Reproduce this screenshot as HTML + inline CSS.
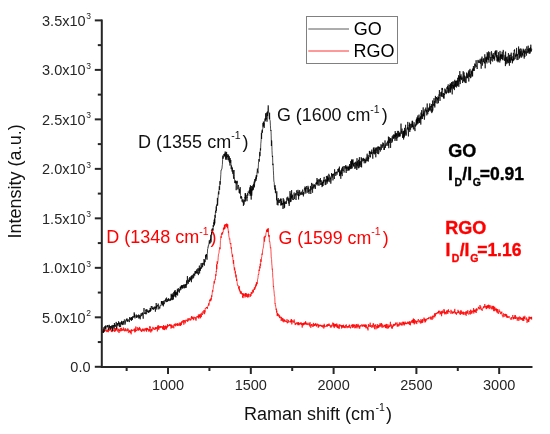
<!DOCTYPE html>
<html><head><meta charset="utf-8"><style>
html,body{margin:0;padding:0;background:#fff;}
body{width:550px;height:434px;overflow:hidden;}
svg{display:block;will-change:transform;font-family:"Liberation Sans",sans-serif;}
</style></head><body>
<svg width="550" height="434" viewBox="0 0 550 434">
<rect width="550" height="434" fill="#fff"/>
<path d="M102.0,331.1 L102.2,330.1 L102.4,332.7 L102.6,331.5 L102.8,330.6 L103.0,329.1 L103.2,330.8 L103.4,332.1 L103.6,330.6 L103.8,330.3 L104.0,331.5 L104.2,329.2 L104.4,330.7 L104.6,331.3 L104.8,329.6 L105.0,329.6 L105.2,330.9 L105.4,330.6 L105.6,330.5 L105.8,331.1 L106.0,331.2 L106.2,329.9 L106.4,330.1 L106.6,331.4 L106.8,332.0 L107.0,332.2 L107.2,329.5 L107.4,331.7 L107.6,331.2 L107.8,330.2 L108.0,330.8 L108.2,331.2 L108.4,332.2 L108.6,328.7 L108.8,330.5 L109.0,329.5 L109.2,329.3 L109.4,330.8 L109.6,330.4 L109.8,328.3 L110.0,329.2 L110.2,329.7 L110.4,327.8 L110.6,330.4 L110.8,329.3 L111.0,329.6 L111.2,330.0 L111.4,331.9 L111.6,329.9 L111.8,329.6 L112.0,332.1 L112.2,329.6 L112.4,329.5 L112.6,328.5 L112.8,331.5 L113.0,330.6 L113.2,330.9 L113.4,330.6 L113.6,330.2 L113.8,329.4 L114.0,329.3 L114.2,330.7 L114.4,330.2 L114.6,331.9 L114.8,329.0 L115.0,329.3 L115.2,328.6 L115.4,331.3 L115.6,328.1 L115.8,330.3 L116.0,330.9 L116.2,329.0 L116.4,330.0 L116.6,326.8 L116.8,329.0 L117.0,327.8 L117.2,330.2 L117.4,330.3 L117.6,329.6 L117.8,331.7 L118.0,331.0 L118.2,329.9 L118.4,329.9 L118.6,328.8 L118.8,330.3 L119.0,333.0 L119.2,329.7 L119.4,330.9 L119.6,329.7 L119.8,331.2 L120.0,330.6 L120.2,329.7 L120.4,327.9 L120.6,329.4 L120.8,331.4 L121.0,329.8 L121.2,330.8 L121.4,329.5 L121.6,327.8 L121.8,330.5 L122.0,330.3 L122.2,329.3 L122.4,329.5 L122.6,330.4 L122.8,329.4 L123.0,330.6 L123.2,330.0 L123.4,327.5 L123.6,330.1 L123.8,329.6 L124.0,329.4 L124.2,330.8 L124.4,329.7 L124.6,330.8 L124.8,331.4 L125.0,330.2 L125.2,328.1 L125.4,329.0 L125.6,330.9 L125.8,329.6 L126.0,329.1 L126.2,330.1 L126.4,330.9 L126.6,330.8 L126.8,331.3 L127.0,329.6 L127.2,330.3 L127.4,330.4 L127.6,330.7 L127.8,328.3 L128.0,330.6 L128.2,329.4 L128.4,332.7 L128.6,332.9 L128.8,333.1 L129.0,332.0 L129.2,330.5 L129.4,332.2 L129.6,330.8 L129.8,331.7 L130.0,329.9 L130.2,330.2 L130.4,331.5 L130.6,333.0 L130.8,331.0 L131.0,333.7 L131.2,334.3 L131.4,329.5 L131.6,330.9 L131.8,329.7 L132.0,330.5 L132.2,329.8 L132.4,330.2 L132.6,331.2 L132.8,331.0 L133.0,330.1 L133.2,329.7 L133.4,329.8 L133.6,329.8 L133.8,330.4 L134.0,329.8 L134.2,330.6 L134.4,328.6 L134.6,331.2 L134.8,332.4 L135.0,330.6 L135.2,328.7 L135.4,331.8 L135.6,329.7 L135.8,326.5 L136.0,329.7 L136.2,330.6 L136.4,330.2 L136.6,331.1 L136.8,330.3 L137.0,329.6 L137.2,327.1 L137.4,328.2 L137.6,329.7 L137.8,330.4 L138.0,328.6 L138.2,329.2 L138.4,330.6 L138.6,327.9 L138.8,327.8 L139.0,329.7 L139.2,330.1 L139.4,329.2 L139.6,326.9 L139.8,329.6 L140.0,328.0 L140.2,330.4 L140.4,329.6 L140.6,330.1 L140.8,330.7 L141.0,329.5 L141.2,331.2 L141.4,331.7 L141.6,330.7 L141.8,331.8 L142.0,329.4 L142.2,331.0 L142.4,330.2 L142.6,328.6 L142.8,329.6 L143.0,329.1 L143.2,329.1 L143.4,329.9 L143.6,331.2 L143.8,329.7 L144.0,330.3 L144.2,328.5 L144.4,330.3 L144.6,331.4 L144.8,330.9 L145.0,330.4 L145.2,329.1 L145.4,328.6 L145.6,329.7 L145.8,328.3 L146.0,328.4 L146.2,330.9 L146.4,328.6 L146.6,331.7 L146.8,327.8 L147.0,329.9 L147.2,328.1 L147.4,329.7 L147.6,328.4 L147.8,329.7 L148.0,329.6 L148.2,329.3 L148.4,330.4 L148.6,331.5 L148.8,328.9 L149.0,330.4 L149.2,329.2 L149.4,328.9 L149.6,331.4 L149.8,326.2 L150.0,328.0 L150.2,326.7 L150.4,328.5 L150.6,328.6 L150.8,332.5 L151.0,329.4 L151.2,331.3 L151.4,330.8 L151.6,328.8 L151.8,329.9 L152.0,331.2 L152.2,329.3 L152.4,329.2 L152.6,329.4 L152.8,326.9 L153.0,327.7 L153.2,329.1 L153.4,329.4 L153.6,327.8 L153.8,328.6 L154.0,328.9 L154.2,328.9 L154.4,329.9 L154.6,329.2 L154.8,329.3 L155.0,327.5 L155.2,327.9 L155.4,329.5 L155.6,327.1 L155.8,329.1 L156.0,327.8 L156.2,327.4 L156.4,328.9 L156.6,327.3 L156.8,327.1 L157.0,327.3 L157.2,328.2 L157.4,331.4 L157.6,325.6 L157.8,328.1 L158.0,327.8 L158.2,329.3 L158.4,327.7 L158.6,325.3 L158.8,329.8 L159.0,326.8 L159.2,327.9 L159.4,326.1 L159.6,326.2 L159.8,326.7 L160.0,328.2 L160.2,328.0 L160.4,326.2 L160.6,327.4 L160.8,326.3 L161.0,326.9 L161.2,327.0 L161.4,327.6 L161.6,326.2 L161.8,326.9 L162.0,327.3 L162.2,327.3 L162.4,326.3 L162.6,329.3 L162.8,326.8 L163.0,328.4 L163.2,327.8 L163.4,329.1 L163.6,325.0 L163.8,330.0 L164.0,327.3 L164.2,326.0 L164.4,327.6 L164.6,330.1 L164.8,327.9 L165.0,325.9 L165.2,326.8 L165.4,328.9 L165.6,325.6 L165.8,327.0 L166.0,326.8 L166.2,329.6 L166.4,326.6 L166.6,328.4 L166.8,325.9 L167.0,325.7 L167.2,327.7 L167.4,327.1 L167.6,324.1 L167.8,326.8 L168.0,326.7 L168.2,325.1 L168.4,326.0 L168.6,326.1 L168.8,325.2 L169.0,325.1 L169.2,325.1 L169.4,325.6 L169.6,324.3 L169.8,325.8 L170.0,324.1 L170.2,326.1 L170.4,325.9 L170.6,324.9 L170.8,327.2 L171.0,328.6 L171.2,327.8 L171.4,324.6 L171.6,327.7 L171.8,326.4 L172.0,326.0 L172.2,325.4 L172.4,326.1 L172.6,327.8 L172.8,326.9 L173.0,325.8 L173.2,325.6 L173.4,325.9 L173.6,326.9 L173.8,328.3 L174.0,324.4 L174.2,325.5 L174.4,324.8 L174.6,324.2 L174.8,325.6 L175.0,325.7 L175.2,323.3 L175.4,323.7 L175.6,326.3 L175.8,325.1 L176.0,325.3 L176.2,324.0 L176.4,324.1 L176.6,325.2 L176.8,324.0 L177.0,323.3 L177.2,324.6 L177.4,325.7 L177.6,323.4 L177.8,326.0 L178.0,325.6 L178.2,323.7 L178.4,324.8 L178.6,324.7 L178.8,325.4 L179.0,325.3 L179.2,322.8 L179.4,322.6 L179.6,325.5 L179.8,324.3 L180.0,324.7 L180.2,324.6 L180.4,326.0 L180.6,322.6 L180.8,325.3 L181.0,322.9 L181.2,324.5 L181.4,325.0 L181.6,321.4 L181.8,323.3 L182.0,322.2 L182.2,321.9 L182.4,322.1 L182.6,320.6 L182.8,320.7 L183.0,322.6 L183.2,322.9 L183.4,321.2 L183.6,320.1 L183.8,324.7 L184.0,323.1 L184.2,322.1 L184.4,320.3 L184.6,320.8 L184.8,321.8 L185.0,320.4 L185.2,323.4 L185.4,321.5 L185.6,321.7 L185.8,319.8 L186.0,319.7 L186.2,319.7 L186.4,320.8 L186.6,320.1 L186.8,319.9 L187.0,320.6 L187.2,320.4 L187.4,321.8 L187.6,319.6 L187.8,318.5 L188.0,319.5 L188.2,321.2 L188.4,318.6 L188.6,319.3 L188.8,318.8 L189.0,319.7 L189.2,319.6 L189.4,318.3 L189.6,319.0 L189.8,320.5 L190.0,320.7 L190.2,320.5 L190.4,320.4 L190.6,318.9 L190.8,318.7 L191.0,320.2 L191.2,317.4 L191.4,318.5 L191.6,316.1 L191.8,317.8 L192.0,317.3 L192.2,316.7 L192.4,319.0 L192.6,317.4 L192.8,317.9 L193.0,318.1 L193.2,317.6 L193.4,320.2 L193.6,317.8 L193.8,318.6 L194.0,316.7 L194.2,317.6 L194.4,317.7 L194.6,317.6 L194.8,317.1 L195.0,317.9 L195.2,319.6 L195.4,317.5 L195.6,317.4 L195.8,317.1 L196.0,320.7 L196.2,319.4 L196.4,318.0 L196.6,318.0 L196.8,316.2 L197.0,316.8 L197.2,317.2 L197.4,317.1 L197.6,316.0 L197.8,316.1 L198.0,317.8 L198.2,317.6 L198.4,314.5 L198.6,317.2 L198.8,318.6 L199.0,316.0 L199.2,316.9 L199.4,314.6 L199.6,317.2 L199.8,314.6 L200.0,314.2 L200.2,315.1 L200.4,318.3 L200.6,314.5 L200.8,313.6 L201.0,315.7 L201.2,315.4 L201.4,317.1 L201.6,313.3 L201.8,312.7 L202.0,314.1 L202.2,314.7 L202.4,314.3 L202.6,314.9 L202.8,311.3 L203.0,311.8 L203.2,312.4 L203.4,313.4 L203.6,312.6 L203.8,311.1 L204.0,310.0 L204.2,312.2 L204.4,312.1 L204.6,314.2 L204.8,310.3 L205.0,312.4 L205.2,308.5 L205.4,309.0 L205.6,308.5 L205.8,308.4 L206.0,307.5 L206.2,307.5 L206.4,307.9 L206.6,307.1 L206.8,308.3 L207.0,307.2 L207.2,307.1 L207.4,308.8 L207.6,307.0 L207.8,306.4 L208.0,305.7 L208.2,305.4 L208.4,305.6 L208.6,303.3 L208.8,305.4 L209.0,305.5 L209.2,304.5 L209.4,301.7 L209.6,299.7 L209.8,300.7 L210.0,300.9 L210.2,301.3 L210.4,299.5 L210.6,299.0 L210.8,301.1 L211.0,297.8 L211.2,299.7 L211.4,299.0 L211.6,295.4 L211.8,296.9 L212.0,294.9 L212.2,293.4 L212.4,291.1 L212.6,290.3 L212.8,291.7 L213.0,289.2 L213.2,288.7 L213.4,285.6 L213.6,285.6 L213.8,284.7 L214.0,282.1 L214.2,281.1 L214.4,283.4 L214.6,282.1 L214.8,279.5 L215.0,279.6 L215.2,279.5 L215.4,279.8 L215.6,274.3 L215.8,275.1 L216.0,275.8 L216.2,271.3 L216.4,272.0 L216.6,264.4 L216.8,269.2 L217.0,265.6 L217.2,261.3 L217.4,264.0 L217.6,263.0 L217.8,261.9 L218.0,260.5 L218.2,257.3 L218.4,254.9 L218.6,254.1 L218.8,253.5 L219.0,252.9 L219.2,250.1 L219.4,249.6 L219.6,249.6 L219.8,247.3 L220.0,249.2 L220.2,247.6 L220.4,240.7 L220.6,240.2 L220.8,237.5 L221.0,236.3 L221.2,237.9 L221.4,234.2 L221.6,233.2 L221.8,233.7 L222.0,235.0 L222.2,232.5 L222.4,232.0 L222.6,233.8 L222.8,232.5 L223.0,231.9 L223.2,232.1 L223.4,228.1 L223.6,229.5 L223.8,227.4 L224.0,229.6 L224.2,228.8 L224.4,225.2 L224.6,229.0 L224.8,224.5 L225.0,228.4 L225.2,226.6 L225.4,224.6 L225.6,224.0 L225.8,225.3 L226.0,225.7 L226.2,224.5 L226.4,226.8 L226.6,223.6 L226.8,226.2 L227.0,226.6 L227.2,223.9 L227.4,228.2 L227.6,226.1 L227.8,224.5 L228.0,228.4 L228.2,229.8 L228.4,232.7 L228.6,231.4 L228.8,235.8 L229.0,236.9 L229.2,237.6 L229.4,239.3 L229.6,238.9 L229.8,238.7 L230.0,242.1 L230.2,243.8 L230.4,243.8 L230.6,244.1 L230.8,243.0 L231.0,247.9 L231.2,248.6 L231.4,247.3 L231.6,250.9 L231.8,253.3 L232.0,253.3 L232.2,255.9 L232.4,257.0 L232.6,254.6 L232.8,257.5 L233.0,259.9 L233.2,261.8 L233.4,263.8 L233.6,260.0 L233.8,264.1 L234.0,266.6 L234.2,268.6 L234.4,270.4 L234.6,267.5 L234.8,269.4 L235.0,269.5 L235.2,273.4 L235.4,271.3 L235.6,276.3 L235.8,277.1 L236.0,277.5 L236.2,274.6 L236.4,277.9 L236.6,281.0 L236.8,278.8 L237.0,281.5 L237.2,282.6 L237.4,285.0 L237.6,284.9 L237.8,285.6 L238.0,285.2 L238.2,286.4 L238.4,286.6 L238.6,288.2 L238.8,287.3 L239.0,289.4 L239.2,286.0 L239.4,290.5 L239.6,289.1 L239.8,291.4 L240.0,290.5 L240.2,292.1 L240.4,293.6 L240.6,291.2 L240.8,292.6 L241.0,292.7 L241.2,293.6 L241.4,291.5 L241.6,293.9 L241.8,294.1 L242.0,293.7 L242.2,294.7 L242.4,293.0 L242.6,297.3 L242.8,296.0 L243.0,298.1 L243.2,294.4 L243.4,294.0 L243.6,296.0 L243.8,293.2 L244.0,295.7 L244.2,294.2 L244.4,294.6 L244.6,295.3 L244.8,295.0 L245.0,297.5 L245.2,295.9 L245.4,293.2 L245.6,296.4 L245.8,293.2 L246.0,295.2 L246.2,293.4 L246.4,294.0 L246.6,297.0 L246.8,294.4 L247.0,294.4 L247.2,294.6 L247.4,295.0 L247.6,297.5 L247.8,294.0 L248.0,294.0 L248.2,296.6 L248.4,293.6 L248.6,295.3 L248.8,297.3 L249.0,295.6 L249.2,294.9 L249.4,294.4 L249.6,294.1 L249.8,294.4 L250.0,295.4 L250.2,296.9 L250.4,296.5 L250.6,294.3 L250.8,294.0 L251.0,295.9 L251.2,292.2 L251.4,294.0 L251.6,293.8 L251.8,292.4 L252.0,292.1 L252.2,293.6 L252.4,290.4 L252.6,291.0 L252.8,291.1 L253.0,291.8 L253.2,289.4 L253.4,292.5 L253.6,290.1 L253.8,289.8 L254.0,289.2 L254.2,288.3 L254.4,287.4 L254.6,290.0 L254.8,288.3 L255.0,287.4 L255.2,288.5 L255.4,285.6 L255.6,287.2 L255.8,285.9 L256.0,284.2 L256.2,286.2 L256.4,282.5 L256.6,285.1 L256.8,282.2 L257.0,283.4 L257.2,284.0 L257.4,282.0 L257.6,279.3 L257.8,279.2 L258.0,277.6 L258.2,275.3 L258.4,274.1 L258.6,274.6 L258.8,274.2 L259.0,269.6 L259.2,271.0 L259.4,270.8 L259.6,269.1 L259.8,266.3 L260.0,268.3 L260.2,263.7 L260.4,265.4 L260.6,265.9 L260.8,259.2 L261.0,261.9 L261.2,260.9 L261.4,259.7 L261.6,257.0 L261.8,256.5 L262.0,253.6 L262.2,254.7 L262.4,254.1 L262.6,251.0 L262.8,249.3 L263.0,248.7 L263.2,248.1 L263.4,246.9 L263.6,245.2 L263.8,244.0 L264.0,240.4 L264.2,236.8 L264.4,241.2 L264.6,241.6 L264.8,235.9 L265.0,236.3 L265.2,237.1 L265.4,237.3 L265.6,235.8 L265.8,235.9 L266.0,232.7 L266.2,232.6 L266.4,231.8 L266.6,229.7 L266.8,232.0 L267.0,230.7 L267.2,231.2 L267.4,229.0 L267.6,231.8 L267.8,228.9 L268.0,232.2 L268.2,228.1 L268.4,231.8 L268.6,235.8 L268.8,234.9 L269.0,237.1 L269.2,235.2 L269.4,241.7 L269.6,241.3 L269.8,241.5 L270.0,243.5 L270.2,244.7 L270.4,248.1 L270.6,248.1 L270.8,247.6 L271.0,251.9 L271.2,256.9 L271.4,258.4 L271.6,259.5 L271.8,263.9 L272.0,265.9 L272.2,269.4 L272.4,268.8 L272.6,272.5 L272.8,277.4 L273.0,278.6 L273.2,282.1 L273.4,287.0 L273.6,286.3 L273.8,289.6 L274.0,290.9 L274.2,293.2 L274.4,296.1 L274.6,296.3 L274.8,297.3 L275.0,303.6 L275.2,303.1 L275.4,306.0 L275.6,305.8 L275.8,307.1 L276.0,308.9 L276.2,310.1 L276.4,308.7 L276.6,312.6 L276.8,310.6 L277.0,312.6 L277.2,316.1 L277.4,313.3 L277.6,315.6 L277.8,313.3 L278.0,314.9 L278.2,314.6 L278.4,315.5 L278.6,314.4 L278.8,314.8 L279.0,316.9 L279.2,314.9 L279.4,316.0 L279.6,318.1 L279.8,316.7 L280.0,316.4 L280.2,316.3 L280.4,317.9 L280.6,317.4 L280.8,318.3 L281.0,318.1 L281.2,321.0 L281.4,318.5 L281.6,316.9 L281.8,319.7 L282.0,319.7 L282.2,320.0 L282.4,318.0 L282.6,321.4 L282.8,320.2 L283.0,320.3 L283.2,318.5 L283.4,321.2 L283.6,320.6 L283.8,322.3 L284.0,320.2 L284.2,319.3 L284.4,321.0 L284.6,319.9 L284.8,321.6 L285.0,319.9 L285.2,321.2 L285.4,321.2 L285.6,321.6 L285.8,321.2 L286.0,321.0 L286.2,322.0 L286.4,321.5 L286.6,322.3 L286.8,321.7 L287.0,319.2 L287.2,321.7 L287.4,323.3 L287.6,321.9 L287.8,322.3 L288.0,322.1 L288.2,320.9 L288.4,319.9 L288.6,322.4 L288.8,322.6 L289.0,322.0 L289.2,321.8 L289.4,321.9 L289.6,321.5 L289.8,321.9 L290.0,321.7 L290.2,322.1 L290.4,320.6 L290.6,321.0 L290.8,322.5 L291.0,321.5 L291.2,319.1 L291.4,322.2 L291.6,319.4 L291.8,324.4 L292.0,322.8 L292.2,322.7 L292.4,321.0 L292.6,320.4 L292.8,321.4 L293.0,321.7 L293.2,320.8 L293.4,321.9 L293.6,322.6 L293.8,322.6 L294.0,320.7 L294.2,319.5 L294.4,322.3 L294.6,321.7 L294.8,323.2 L295.0,324.7 L295.2,324.8 L295.4,323.2 L295.6,324.2 L295.8,324.8 L296.0,322.9 L296.2,323.1 L296.4,323.8 L296.6,322.9 L296.8,322.4 L297.0,322.2 L297.2,323.3 L297.4,322.6 L297.6,324.4 L297.8,323.1 L298.0,325.2 L298.2,324.9 L298.4,322.0 L298.6,324.8 L298.8,323.1 L299.0,325.2 L299.2,324.2 L299.4,323.5 L299.6,324.3 L299.8,322.8 L300.0,323.8 L300.2,323.8 L300.4,323.3 L300.6,324.0 L300.8,322.5 L301.0,324.6 L301.2,322.6 L301.4,324.9 L301.6,324.8 L301.8,325.0 L302.0,323.5 L302.2,327.6 L302.4,323.8 L302.6,324.2 L302.8,323.1 L303.0,325.6 L303.2,323.3 L303.4,325.0 L303.6,322.8 L303.8,324.2 L304.0,323.5 L304.2,324.9 L304.4,323.4 L304.6,322.7 L304.8,324.1 L305.0,322.1 L305.2,322.3 L305.4,324.3 L305.6,321.2 L305.8,324.3 L306.0,323.1 L306.2,322.6 L306.4,324.1 L306.6,324.6 L306.8,323.3 L307.0,323.9 L307.2,325.0 L307.4,324.9 L307.6,323.9 L307.8,323.0 L308.0,322.7 L308.2,323.0 L308.4,324.4 L308.6,324.2 L308.8,323.9 L309.0,325.2 L309.2,323.4 L309.4,323.5 L309.6,323.7 L309.8,326.5 L310.0,322.2 L310.2,325.1 L310.4,325.4 L310.6,325.1 L310.8,327.8 L311.0,326.5 L311.2,326.0 L311.4,324.1 L311.6,325.6 L311.8,324.5 L312.0,325.0 L312.2,325.2 L312.4,324.5 L312.6,325.8 L312.8,327.0 L313.0,326.3 L313.2,325.4 L313.4,322.9 L313.6,326.3 L313.8,326.2 L314.0,324.8 L314.2,324.5 L314.4,325.8 L314.6,324.2 L314.8,326.0 L315.0,323.8 L315.2,324.0 L315.4,325.0 L315.6,323.3 L315.8,325.0 L316.0,325.7 L316.2,323.7 L316.4,326.4 L316.6,324.9 L316.8,326.3 L317.0,325.9 L317.2,325.2 L317.4,325.1 L317.6,323.7 L317.8,324.9 L318.0,324.9 L318.2,327.8 L318.4,327.1 L318.6,324.4 L318.8,326.7 L319.0,325.9 L319.2,325.1 L319.4,325.9 L319.6,326.3 L319.8,324.8 L320.0,325.3 L320.2,326.0 L320.4,324.8 L320.6,326.2 L320.8,325.9 L321.0,325.2 L321.2,325.0 L321.4,326.3 L321.6,326.9 L321.8,326.3 L322.0,324.9 L322.2,326.8 L322.4,326.2 L322.6,326.8 L322.8,327.5 L323.0,325.3 L323.2,326.3 L323.4,325.7 L323.6,325.3 L323.8,328.5 L324.0,327.1 L324.2,323.8 L324.4,326.3 L324.6,325.2 L324.8,327.2 L325.0,326.1 L325.2,325.9 L325.4,326.3 L325.6,326.5 L325.8,326.1 L326.0,325.8 L326.2,325.8 L326.4,326.6 L326.6,324.7 L326.8,325.9 L327.0,325.8 L327.2,325.3 L327.4,326.6 L327.6,324.2 L327.8,325.1 L328.0,324.4 L328.2,325.9 L328.4,324.7 L328.6,325.3 L328.8,325.7 L329.0,323.5 L329.2,325.9 L329.4,324.6 L329.6,325.1 L329.8,325.3 L330.0,326.3 L330.2,326.3 L330.4,327.5 L330.6,325.7 L330.8,325.0 L331.0,325.0 L331.2,326.3 L331.4,327.4 L331.6,325.9 L331.8,324.7 L332.0,325.6 L332.2,325.6 L332.4,325.4 L332.6,324.5 L332.8,322.6 L333.0,324.9 L333.2,326.8 L333.4,325.9 L333.6,323.2 L333.8,325.7 L334.0,323.7 L334.2,328.1 L334.4,326.0 L334.6,324.4 L334.8,326.6 L335.0,324.7 L335.2,326.1 L335.4,325.4 L335.6,324.0 L335.8,326.1 L336.0,323.8 L336.2,326.9 L336.4,325.5 L336.6,324.4 L336.8,323.6 L337.0,327.6 L337.2,327.6 L337.4,324.7 L337.6,328.1 L337.8,326.6 L338.0,326.2 L338.2,326.5 L338.4,326.4 L338.6,328.3 L338.8,326.8 L339.0,324.5 L339.2,328.8 L339.4,327.2 L339.6,324.7 L339.8,325.3 L340.0,324.6 L340.2,325.6 L340.4,326.0 L340.6,325.9 L340.8,325.0 L341.0,324.9 L341.2,326.9 L341.4,325.8 L341.6,328.5 L341.8,325.1 L342.0,327.0 L342.2,326.2 L342.4,325.3 L342.6,327.7 L342.8,326.3 L343.0,325.1 L343.2,325.7 L343.4,327.2 L343.6,324.7 L343.8,327.7 L344.0,327.0 L344.2,325.9 L344.4,327.8 L344.6,328.1 L344.8,326.8 L345.0,326.2 L345.2,328.1 L345.4,327.7 L345.6,324.9 L345.8,325.7 L346.0,325.8 L346.2,325.6 L346.4,324.5 L346.6,327.3 L346.8,326.5 L347.0,326.6 L347.2,328.2 L347.4,326.1 L347.6,326.7 L347.8,327.0 L348.0,326.1 L348.2,326.3 L348.4,327.2 L348.6,326.2 L348.8,327.7 L349.0,325.3 L349.2,326.5 L349.4,324.6 L349.6,326.2 L349.8,325.5 L350.0,327.9 L350.2,327.2 L350.4,326.9 L350.6,328.4 L350.8,328.0 L351.0,327.2 L351.2,325.6 L351.4,324.8 L351.6,326.4 L351.8,325.9 L352.0,325.5 L352.2,325.9 L352.4,324.3 L352.6,327.9 L352.8,324.9 L353.0,325.4 L353.2,326.8 L353.4,324.3 L353.6,327.3 L353.8,327.3 L354.0,326.0 L354.2,325.2 L354.4,326.0 L354.6,324.5 L354.8,328.3 L355.0,326.8 L355.2,325.8 L355.4,325.5 L355.6,327.1 L355.8,328.1 L356.0,324.8 L356.2,325.5 L356.4,324.0 L356.6,326.7 L356.8,326.0 L357.0,328.3 L357.2,325.5 L357.4,325.2 L357.6,324.9 L357.8,326.7 L358.0,323.9 L358.2,326.8 L358.4,326.3 L358.6,325.5 L358.8,325.2 L359.0,327.5 L359.2,328.5 L359.4,325.9 L359.6,327.1 L359.8,328.5 L360.0,325.8 L360.2,326.2 L360.4,325.1 L360.6,326.3 L360.8,326.4 L361.0,326.0 L361.2,325.6 L361.4,324.5 L361.6,324.6 L361.8,324.8 L362.0,326.6 L362.2,325.1 L362.4,324.7 L362.6,326.4 L362.8,326.3 L363.0,324.8 L363.2,324.9 L363.4,326.3 L363.6,325.9 L363.8,324.5 L364.0,325.7 L364.2,325.5 L364.4,326.9 L364.6,324.7 L364.8,326.8 L365.0,326.4 L365.2,324.8 L365.4,327.2 L365.6,327.0 L365.8,324.5 L366.0,328.3 L366.2,324.8 L366.4,325.2 L366.6,326.1 L366.8,327.5 L367.0,327.5 L367.2,326.9 L367.4,328.7 L367.6,327.6 L367.8,328.8 L368.0,330.4 L368.2,327.4 L368.4,324.1 L368.6,326.5 L368.8,325.7 L369.0,326.9 L369.2,326.8 L369.4,325.0 L369.6,324.9 L369.8,325.7 L370.0,325.6 L370.2,322.7 L370.4,326.9 L370.6,325.9 L370.8,326.0 L371.0,326.5 L371.2,325.1 L371.4,326.4 L371.6,327.6 L371.8,327.6 L372.0,326.7 L372.2,325.6 L372.4,324.9 L372.6,327.3 L372.8,326.4 L373.0,325.3 L373.2,323.3 L373.4,324.9 L373.6,323.7 L373.8,327.4 L374.0,326.2 L374.2,325.1 L374.4,325.8 L374.6,329.2 L374.8,327.7 L375.0,324.8 L375.2,326.3 L375.4,325.0 L375.6,324.5 L375.8,326.7 L376.0,329.3 L376.2,328.3 L376.4,326.5 L376.6,326.0 L376.8,326.7 L377.0,327.6 L377.2,324.6 L377.4,324.1 L377.6,328.4 L377.8,326.4 L378.0,327.8 L378.2,326.1 L378.4,327.5 L378.6,324.9 L378.8,326.2 L379.0,327.4 L379.2,326.7 L379.4,324.9 L379.6,326.4 L379.8,324.4 L380.0,323.3 L380.2,325.5 L380.4,326.5 L380.6,326.0 L380.8,323.6 L381.0,326.4 L381.2,326.4 L381.4,325.3 L381.6,323.1 L381.8,327.5 L382.0,327.4 L382.2,327.1 L382.4,324.4 L382.6,324.7 L382.8,327.7 L383.0,327.4 L383.2,327.0 L383.4,326.0 L383.6,326.6 L383.8,325.4 L384.0,325.6 L384.2,324.8 L384.4,326.1 L384.6,325.3 L384.8,326.9 L385.0,326.7 L385.2,324.9 L385.4,328.1 L385.6,324.6 L385.8,326.6 L386.0,327.6 L386.2,328.0 L386.4,323.9 L386.6,327.9 L386.8,328.3 L387.0,328.6 L387.2,324.2 L387.4,326.1 L387.6,326.8 L387.8,326.4 L388.0,328.5 L388.2,325.9 L388.4,328.1 L388.6,327.1 L388.8,324.6 L389.0,325.0 L389.2,325.6 L389.4,326.2 L389.6,327.2 L389.8,325.6 L390.0,326.8 L390.2,323.7 L390.4,321.8 L390.6,325.0 L390.8,326.0 L391.0,325.0 L391.2,324.4 L391.4,326.4 L391.6,328.4 L391.8,326.1 L392.0,325.4 L392.2,325.3 L392.4,328.6 L392.6,326.0 L392.8,326.5 L393.0,327.0 L393.2,326.6 L393.4,323.9 L393.6,326.0 L393.8,325.8 L394.0,325.3 L394.2,325.9 L394.4,324.0 L394.6,324.6 L394.8,324.0 L395.0,325.5 L395.2,323.6 L395.4,324.7 L395.6,322.6 L395.8,323.7 L396.0,323.3 L396.2,323.7 L396.4,324.2 L396.6,324.1 L396.8,324.4 L397.0,322.4 L397.2,326.6 L397.4,324.7 L397.6,325.2 L397.8,324.5 L398.0,326.5 L398.2,323.9 L398.4,325.4 L398.6,325.9 L398.8,326.2 L399.0,325.5 L399.2,324.7 L399.4,322.4 L399.6,325.4 L399.8,325.2 L400.0,324.7 L400.2,324.5 L400.4,323.5 L400.6,322.8 L400.8,324.8 L401.0,325.1 L401.2,322.5 L401.4,325.1 L401.6,324.5 L401.8,325.3 L402.0,324.5 L402.2,325.4 L402.4,325.0 L402.6,324.7 L402.8,321.7 L403.0,324.4 L403.2,323.4 L403.4,322.0 L403.6,324.3 L403.8,321.8 L404.0,324.5 L404.2,325.5 L404.4,322.8 L404.6,324.5 L404.8,323.9 L405.0,324.1 L405.2,321.6 L405.4,323.9 L405.6,323.2 L405.8,323.8 L406.0,322.8 L406.2,324.1 L406.4,323.0 L406.6,323.4 L406.8,324.2 L407.0,322.7 L407.2,323.6 L407.4,322.6 L407.6,322.9 L407.8,321.6 L408.0,323.2 L408.2,323.8 L408.4,322.3 L408.6,323.6 L408.8,323.3 L409.0,321.7 L409.2,323.6 L409.4,324.9 L409.6,322.7 L409.8,321.1 L410.0,323.5 L410.2,322.3 L410.4,325.3 L410.6,322.8 L410.8,322.6 L411.0,321.7 L411.2,322.5 L411.4,321.3 L411.6,320.7 L411.8,321.6 L412.0,320.6 L412.2,323.1 L412.4,320.0 L412.6,321.3 L412.8,320.4 L413.0,319.5 L413.2,323.1 L413.4,318.5 L413.6,322.9 L413.8,319.5 L414.0,321.5 L414.2,324.4 L414.4,319.2 L414.6,320.2 L414.8,323.5 L415.0,322.0 L415.2,321.0 L415.4,321.5 L415.6,320.3 L415.8,321.5 L416.0,323.2 L416.2,321.0 L416.4,321.7 L416.6,323.1 L416.8,324.1 L417.0,320.9 L417.2,322.0 L417.4,320.9 L417.6,320.8 L417.8,321.1 L418.0,320.7 L418.2,319.3 L418.4,319.0 L418.6,320.4 L418.8,321.3 L419.0,322.5 L419.2,320.3 L419.4,320.6 L419.6,321.7 L419.8,321.8 L420.0,320.9 L420.2,321.1 L420.4,323.5 L420.6,320.8 L420.8,320.5 L421.0,319.1 L421.2,321.5 L421.4,320.6 L421.6,323.2 L421.8,320.5 L422.0,321.8 L422.2,321.9 L422.4,322.7 L422.6,319.0 L422.8,322.5 L423.0,320.6 L423.2,320.4 L423.4,320.2 L423.6,320.1 L423.8,320.1 L424.0,317.6 L424.2,320.9 L424.4,320.2 L424.6,318.7 L424.8,319.7 L425.0,322.5 L425.2,320.2 L425.4,319.3 L425.6,321.9 L425.8,318.9 L426.0,319.7 L426.2,319.2 L426.4,319.5 L426.6,320.5 L426.8,320.2 L427.0,318.4 L427.2,319.0 L427.4,319.2 L427.6,318.5 L427.8,319.0 L428.0,318.1 L428.2,318.0 L428.4,318.9 L428.6,317.5 L428.8,319.2 L429.0,318.4 L429.2,317.4 L429.4,317.6 L429.6,317.7 L429.8,317.9 L430.0,318.1 L430.2,317.5 L430.4,316.6 L430.6,319.4 L430.8,318.7 L431.0,317.7 L431.2,318.6 L431.4,317.7 L431.6,316.7 L431.8,317.0 L432.0,320.0 L432.2,317.7 L432.4,317.6 L432.6,315.7 L432.8,316.8 L433.0,318.7 L433.2,316.3 L433.4,316.8 L433.6,316.8 L433.8,315.7 L434.0,316.6 L434.2,314.7 L434.4,314.8 L434.6,313.3 L434.8,317.4 L435.0,314.5 L435.2,314.2 L435.4,315.9 L435.6,313.5 L435.8,314.1 L436.0,313.1 L436.2,314.0 L436.4,313.3 L436.6,314.2 L436.8,313.1 L437.0,312.3 L437.2,312.5 L437.4,312.6 L437.6,312.0 L437.8,313.8 L438.0,313.5 L438.2,312.8 L438.4,311.1 L438.6,313.1 L438.8,310.7 L439.0,312.4 L439.2,312.1 L439.4,311.2 L439.6,310.8 L439.8,311.0 L440.0,314.5 L440.2,311.7 L440.4,312.0 L440.6,313.6 L440.8,313.0 L441.0,313.8 L441.2,310.9 L441.4,311.0 L441.6,316.2 L441.8,312.2 L442.0,311.8 L442.2,312.4 L442.4,313.4 L442.6,310.6 L442.8,312.4 L443.0,312.0 L443.2,312.8 L443.4,312.2 L443.6,311.4 L443.8,311.0 L444.0,309.0 L444.2,313.3 L444.4,310.3 L444.6,311.7 L444.8,314.4 L445.0,311.8 L445.2,313.2 L445.4,312.3 L445.6,313.5 L445.8,312.7 L446.0,312.0 L446.2,314.3 L446.4,312.2 L446.6,310.7 L446.8,311.8 L447.0,312.7 L447.2,310.4 L447.4,312.6 L447.6,312.4 L447.8,314.0 L448.0,310.4 L448.2,312.1 L448.4,309.3 L448.6,311.0 L448.8,311.7 L449.0,312.2 L449.2,311.7 L449.4,311.7 L449.6,311.1 L449.8,311.4 L450.0,312.5 L450.2,312.9 L450.4,313.0 L450.6,313.4 L450.8,313.6 L451.0,309.8 L451.2,311.4 L451.4,311.8 L451.6,311.3 L451.8,313.5 L452.0,313.2 L452.2,312.1 L452.4,312.3 L452.6,313.6 L452.8,311.4 L453.0,311.3 L453.2,312.7 L453.4,312.1 L453.6,313.2 L453.8,311.9 L454.0,312.5 L454.2,311.0 L454.4,310.7 L454.6,312.1 L454.8,308.9 L455.0,312.9 L455.2,313.6 L455.4,312.5 L455.6,312.0 L455.8,313.6 L456.0,312.1 L456.2,313.4 L456.4,314.8 L456.6,313.0 L456.8,313.3 L457.0,312.7 L457.2,312.4 L457.4,312.3 L457.6,312.0 L457.8,313.2 L458.0,309.8 L458.2,311.6 L458.4,312.9 L458.6,311.1 L458.8,312.1 L459.0,311.4 L459.2,312.9 L459.4,313.5 L459.6,314.3 L459.8,313.2 L460.0,311.9 L460.2,313.2 L460.4,313.7 L460.6,314.8 L460.8,310.4 L461.0,313.5 L461.2,310.6 L461.4,313.7 L461.6,313.2 L461.8,313.1 L462.0,313.6 L462.2,313.0 L462.4,311.8 L462.6,313.1 L462.8,314.4 L463.0,312.9 L463.2,313.2 L463.4,311.7 L463.6,314.7 L463.8,312.7 L464.0,312.4 L464.2,312.7 L464.4,312.1 L464.6,312.7 L464.8,314.5 L465.0,313.8 L465.2,314.5 L465.4,314.5 L465.6,311.6 L465.8,313.3 L466.0,314.7 L466.2,315.8 L466.4,311.3 L466.6,311.3 L466.8,313.7 L467.0,312.6 L467.2,311.7 L467.4,313.4 L467.6,312.0 L467.8,310.2 L468.0,313.1 L468.2,313.4 L468.4,314.1 L468.6,314.5 L468.8,313.6 L469.0,313.0 L469.2,312.3 L469.4,310.9 L469.6,312.2 L469.8,313.7 L470.0,313.0 L470.2,314.6 L470.4,311.7 L470.6,309.7 L470.8,313.0 L471.0,313.4 L471.2,310.9 L471.4,310.5 L471.6,312.9 L471.8,313.7 L472.0,311.5 L472.2,312.4 L472.4,311.7 L472.6,311.0 L472.8,310.6 L473.0,312.1 L473.2,311.2 L473.4,310.6 L473.6,308.1 L473.8,313.5 L474.0,310.1 L474.2,311.2 L474.4,310.0 L474.6,311.9 L474.8,309.5 L475.0,311.4 L475.2,310.9 L475.4,312.2 L475.6,309.5 L475.8,309.9 L476.0,310.2 L476.2,313.0 L476.4,308.3 L476.6,310.4 L476.8,309.1 L477.0,310.2 L477.2,310.5 L477.4,309.8 L477.6,309.8 L477.8,309.8 L478.0,308.6 L478.2,308.8 L478.4,306.8 L478.6,308.2 L478.8,307.4 L479.0,307.8 L479.2,308.9 L479.4,308.4 L479.6,308.6 L479.8,309.4 L480.0,305.0 L480.2,308.6 L480.4,308.1 L480.6,308.0 L480.8,306.5 L481.0,309.0 L481.2,309.9 L481.4,309.9 L481.6,308.6 L481.8,309.5 L482.0,309.8 L482.2,310.8 L482.4,309.8 L482.6,308.3 L482.8,308.0 L483.0,307.9 L483.2,307.9 L483.4,306.8 L483.6,308.3 L483.8,306.3 L484.0,306.1 L484.2,307.4 L484.4,306.1 L484.6,306.4 L484.8,304.0 L485.0,307.6 L485.2,306.6 L485.4,306.5 L485.6,307.2 L485.8,306.9 L486.0,305.8 L486.2,309.2 L486.4,306.1 L486.6,307.8 L486.8,308.9 L487.0,305.7 L487.2,306.6 L487.4,305.5 L487.6,307.9 L487.8,306.1 L488.0,305.1 L488.2,308.0 L488.4,307.3 L488.6,304.7 L488.8,307.2 L489.0,305.9 L489.2,309.1 L489.4,308.0 L489.6,305.3 L489.8,306.0 L490.0,305.5 L490.2,307.1 L490.4,307.3 L490.6,308.3 L490.8,307.6 L491.0,305.7 L491.2,306.5 L491.4,309.3 L491.6,308.9 L491.8,307.3 L492.0,307.3 L492.2,307.4 L492.4,307.8 L492.6,305.9 L492.8,309.4 L493.0,307.8 L493.2,309.1 L493.4,305.9 L493.6,309.6 L493.8,311.1 L494.0,306.6 L494.2,311.2 L494.4,309.8 L494.6,308.1 L494.8,306.9 L495.0,310.3 L495.2,309.1 L495.4,309.6 L495.6,308.7 L495.8,308.3 L496.0,310.7 L496.2,308.9 L496.4,311.6 L496.6,308.7 L496.8,309.8 L497.0,309.3 L497.2,312.9 L497.4,309.1 L497.6,309.9 L497.8,312.1 L498.0,311.6 L498.2,314.0 L498.4,313.6 L498.6,312.1 L498.8,312.3 L499.0,309.4 L499.2,310.7 L499.4,311.7 L499.6,312.1 L499.8,310.8 L500.0,311.5 L500.2,311.7 L500.4,314.1 L500.6,313.4 L500.8,312.5 L501.0,312.7 L501.2,313.5 L501.4,312.5 L501.6,313.2 L501.8,311.6 L502.0,314.8 L502.2,315.4 L502.4,314.9 L502.6,315.2 L502.8,315.1 L503.0,317.3 L503.2,315.1 L503.4,313.3 L503.6,313.7 L503.8,316.0 L504.0,316.6 L504.2,316.4 L504.4,316.6 L504.6,316.0 L504.8,314.0 L505.0,315.1 L505.2,313.8 L505.4,315.6 L505.6,314.5 L505.8,316.4 L506.0,316.1 L506.2,314.0 L506.4,317.4 L506.6,317.4 L506.8,314.8 L507.0,316.6 L507.2,317.3 L507.4,316.1 L507.6,317.5 L507.8,316.8 L508.0,317.8 L508.2,316.8 L508.4,316.3 L508.6,317.2 L508.8,317.6 L509.0,317.1 L509.2,316.5 L509.4,316.4 L509.6,317.2 L509.8,317.3 L510.0,318.4 L510.2,318.5 L510.4,318.2 L510.6,318.3 L510.8,318.4 L511.0,320.0 L511.2,319.5 L511.4,317.3 L511.6,318.5 L511.8,317.6 L512.0,317.9 L512.2,317.7 L512.4,317.2 L512.6,316.3 L512.8,315.0 L513.0,318.2 L513.2,319.4 L513.4,317.0 L513.6,318.9 L513.8,317.9 L514.0,318.8 L514.2,317.5 L514.4,318.1 L514.6,318.2 L514.8,315.3 L515.0,318.5 L515.2,318.0 L515.4,315.2 L515.6,319.0 L515.8,318.1 L516.0,318.4 L516.2,318.6 L516.4,317.7 L516.6,316.8 L516.8,317.6 L517.0,317.5 L517.2,320.7 L517.4,320.3 L517.6,317.5 L517.8,317.7 L518.0,318.7 L518.2,319.1 L518.4,317.7 L518.6,317.3 L518.8,320.9 L519.0,319.8 L519.2,316.7 L519.4,316.5 L519.6,317.7 L519.8,319.1 L520.0,319.5 L520.2,318.5 L520.4,316.9 L520.6,319.1 L520.8,319.5 L521.0,318.8 L521.2,318.2 L521.4,319.6 L521.6,319.0 L521.8,317.8 L522.0,319.4 L522.2,317.8 L522.4,320.6 L522.6,320.0 L522.8,318.2 L523.0,319.6 L523.2,320.7 L523.4,316.5 L523.6,318.9 L523.8,321.0 L524.0,317.1 L524.2,318.7 L524.4,317.2 L524.6,318.7 L524.8,315.8 L525.0,316.6 L525.2,317.8 L525.4,318.5 L525.6,318.8 L525.8,318.9 L526.0,319.8 L526.2,319.4 L526.4,319.5 L526.6,317.5 L526.8,318.7 L527.0,322.8 L527.2,321.8 L527.4,320.1 L527.6,320.1 L527.8,320.5 L528.0,318.9 L528.2,321.9 L528.4,319.1 L528.6,319.4 L528.8,322.1 L529.0,316.7 L529.2,319.6 L529.4,316.8 L529.6,318.0 L529.8,318.5 L530.0,318.1 L530.2,318.7 L530.4,317.5 L530.6,318.4 L530.8,317.0 L531.0,318.1 L531.2,316.9 L531.4,319.4 L531.6,316.9 L531.8,319.4" fill="none" stroke="#ff0000" stroke-width="0.7" stroke-linejoin="round"/>
<path d="M102.0,331.9 L102.2,331.9 L102.4,331.7 L102.6,331.4 L102.8,332.8 L103.0,331.2 L103.2,331.6 L103.4,331.1 L103.6,332.9 L103.8,327.3 L104.0,331.9 L104.2,329.4 L104.4,329.1 L104.6,327.8 L104.8,326.2 L105.0,328.0 L105.2,327.2 L105.4,328.7 L105.6,325.5 L105.8,329.6 L106.0,327.8 L106.2,327.0 L106.4,326.4 L106.6,326.3 L106.8,325.7 L107.0,326.5 L107.2,327.3 L107.4,326.9 L107.6,325.0 L107.8,326.7 L108.0,325.7 L108.2,327.3 L108.4,329.9 L108.6,328.1 L108.8,326.8 L109.0,324.9 L109.2,325.3 L109.4,324.9 L109.6,328.4 L109.8,326.2 L110.0,327.3 L110.2,326.3 L110.4,327.3 L110.6,329.3 L110.8,326.2 L111.0,326.7 L111.2,326.1 L111.4,328.6 L111.6,325.8 L111.8,325.6 L112.0,325.1 L112.2,325.0 L112.4,327.8 L112.6,330.9 L112.8,325.5 L113.0,328.4 L113.2,327.3 L113.4,325.2 L113.6,326.3 L113.8,326.1 L114.0,325.2 L114.2,328.9 L114.4,323.0 L114.6,326.3 L114.8,326.2 L115.0,324.7 L115.2,325.7 L115.4,326.7 L115.6,325.5 L115.8,325.8 L116.0,326.1 L116.2,321.9 L116.4,327.2 L116.6,328.5 L116.8,326.6 L117.0,326.7 L117.2,323.0 L117.4,324.9 L117.6,323.7 L117.8,323.9 L118.0,326.2 L118.2,323.3 L118.4,324.2 L118.6,321.3 L118.8,323.9 L119.0,324.2 L119.2,323.0 L119.4,323.0 L119.6,327.1 L119.8,322.4 L120.0,322.6 L120.2,322.9 L120.4,325.8 L120.6,326.9 L120.8,323.9 L121.0,322.0 L121.2,322.1 L121.4,324.1 L121.6,320.9 L121.8,324.4 L122.0,324.4 L122.2,322.5 L122.4,323.5 L122.6,323.8 L122.8,325.1 L123.0,321.1 L123.2,324.5 L123.4,322.0 L123.6,321.3 L123.8,322.5 L124.0,321.9 L124.2,320.6 L124.4,319.5 L124.6,320.3 L124.8,323.9 L125.0,324.7 L125.2,322.6 L125.4,323.3 L125.6,320.6 L125.8,321.1 L126.0,321.5 L126.2,319.1 L126.4,319.0 L126.6,320.4 L126.8,319.6 L127.0,318.4 L127.2,320.6 L127.4,319.7 L127.6,321.8 L127.8,320.3 L128.0,319.9 L128.2,320.6 L128.4,320.2 L128.6,319.5 L128.8,319.9 L129.0,321.6 L129.2,321.3 L129.4,322.1 L129.6,317.2 L129.8,319.0 L130.0,318.8 L130.2,319.5 L130.4,318.4 L130.6,318.1 L130.8,320.1 L131.0,319.1 L131.2,317.0 L131.4,320.9 L131.6,320.3 L131.8,317.6 L132.0,319.7 L132.2,317.0 L132.4,319.7 L132.6,317.4 L132.8,316.3 L133.0,316.9 L133.2,316.2 L133.4,317.7 L133.6,317.6 L133.8,317.4 L134.0,316.4 L134.2,312.4 L134.4,317.1 L134.6,313.8 L134.8,317.1 L135.0,318.4 L135.2,316.9 L135.4,315.8 L135.6,316.1 L135.8,316.1 L136.0,315.4 L136.2,315.2 L136.4,314.6 L136.6,317.9 L136.8,315.9 L137.0,317.4 L137.2,315.5 L137.4,316.0 L137.6,315.6 L137.8,316.6 L138.0,317.2 L138.2,316.2 L138.4,314.7 L138.6,314.6 L138.8,318.5 L139.0,315.4 L139.2,315.4 L139.4,318.1 L139.6,317.4 L139.8,316.4 L140.0,314.9 L140.2,319.3 L140.4,316.2 L140.6,316.5 L140.8,315.4 L141.0,313.3 L141.2,313.4 L141.4,316.1 L141.6,316.0 L141.8,314.9 L142.0,313.3 L142.2,312.8 L142.4,314.6 L142.6,312.6 L142.8,316.2 L143.0,316.3 L143.2,318.7 L143.4,315.2 L143.6,312.4 L143.8,311.7 L144.0,308.0 L144.2,311.7 L144.4,312.2 L144.6,314.0 L144.8,313.3 L145.0,313.2 L145.2,312.4 L145.4,313.0 L145.6,314.2 L145.8,309.9 L146.0,310.8 L146.2,309.2 L146.4,314.2 L146.6,313.6 L146.8,312.7 L147.0,309.4 L147.2,311.6 L147.4,310.8 L147.6,311.3 L147.8,310.9 L148.0,312.1 L148.2,310.7 L148.4,312.9 L148.6,311.9 L148.8,311.0 L149.0,311.2 L149.2,310.4 L149.4,312.3 L149.6,310.3 L149.8,311.1 L150.0,309.8 L150.2,307.9 L150.4,311.7 L150.6,308.3 L150.8,310.9 L151.0,310.1 L151.2,306.2 L151.4,307.0 L151.6,307.4 L151.8,306.6 L152.0,306.0 L152.2,309.3 L152.4,307.8 L152.6,309.0 L152.8,307.8 L153.0,309.2 L153.2,307.5 L153.4,308.8 L153.6,309.8 L153.8,308.9 L154.0,307.9 L154.2,306.8 L154.4,308.7 L154.6,308.8 L154.8,307.6 L155.0,306.5 L155.2,308.5 L155.4,311.7 L155.6,306.9 L155.8,307.9 L156.0,308.0 L156.2,303.0 L156.4,307.6 L156.6,306.1 L156.8,309.5 L157.0,306.4 L157.2,305.2 L157.4,305.9 L157.6,306.4 L157.8,305.0 L158.0,305.8 L158.2,303.6 L158.4,305.6 L158.6,307.4 L158.8,309.4 L159.0,307.3 L159.2,306.5 L159.4,307.9 L159.6,307.5 L159.8,308.5 L160.0,307.5 L160.2,305.4 L160.4,306.0 L160.6,305.8 L160.8,305.9 L161.0,305.6 L161.2,303.7 L161.4,301.2 L161.6,303.5 L161.8,301.1 L162.0,304.5 L162.2,304.3 L162.4,301.2 L162.6,305.1 L162.8,305.2 L163.0,303.7 L163.2,306.2 L163.4,306.3 L163.6,300.8 L163.8,304.4 L164.0,303.2 L164.2,302.9 L164.4,303.6 L164.6,300.5 L164.8,300.5 L165.0,299.9 L165.2,299.9 L165.4,301.0 L165.6,298.6 L165.8,299.3 L166.0,302.2 L166.2,301.0 L166.4,301.8 L166.6,297.6 L166.8,299.4 L167.0,299.7 L167.2,300.5 L167.4,299.3 L167.6,301.8 L167.8,299.9 L168.0,299.8 L168.2,299.5 L168.4,300.5 L168.6,298.2 L168.8,300.9 L169.0,299.7 L169.2,299.3 L169.4,299.2 L169.6,300.2 L169.8,301.1 L170.0,300.9 L170.2,299.7 L170.4,300.3 L170.6,298.6 L170.8,300.3 L171.0,297.7 L171.2,293.8 L171.4,299.7 L171.6,297.3 L171.8,294.8 L172.0,296.3 L172.2,294.9 L172.4,300.1 L172.6,297.1 L172.8,293.4 L173.0,297.1 L173.2,295.4 L173.4,299.5 L173.6,294.1 L173.8,291.9 L174.0,295.9 L174.2,294.9 L174.4,294.4 L174.6,290.8 L174.8,295.0 L175.0,296.9 L175.2,290.1 L175.4,295.5 L175.6,292.2 L175.8,297.4 L176.0,293.8 L176.2,292.7 L176.4,295.0 L176.6,293.9 L176.8,291.8 L177.0,294.0 L177.2,291.5 L177.4,288.8 L177.6,295.5 L177.8,290.8 L178.0,290.1 L178.2,291.7 L178.4,288.2 L178.6,288.6 L178.8,290.2 L179.0,290.0 L179.2,290.9 L179.4,292.6 L179.6,289.2 L179.8,290.5 L180.0,290.3 L180.2,286.8 L180.4,288.9 L180.6,286.6 L180.8,290.1 L181.0,288.9 L181.2,287.9 L181.4,285.2 L181.6,287.7 L181.8,285.9 L182.0,288.5 L182.2,286.8 L182.4,285.3 L182.6,288.4 L182.8,287.8 L183.0,285.1 L183.2,288.2 L183.4,285.3 L183.6,285.2 L183.8,286.0 L184.0,284.3 L184.2,284.8 L184.4,285.2 L184.6,288.3 L184.8,288.1 L185.0,284.6 L185.2,287.9 L185.4,284.5 L185.6,285.0 L185.8,285.6 L186.0,284.1 L186.2,287.8 L186.4,283.4 L186.6,280.4 L186.8,285.0 L187.0,281.5 L187.2,281.5 L187.4,276.1 L187.6,283.4 L187.8,282.8 L188.0,282.5 L188.2,282.5 L188.4,283.7 L188.6,280.1 L188.8,281.8 L189.0,278.5 L189.2,279.1 L189.4,281.8 L189.6,280.4 L189.8,277.0 L190.0,280.3 L190.2,279.2 L190.4,277.9 L190.6,280.3 L190.8,278.6 L191.0,276.2 L191.2,276.9 L191.4,282.2 L191.6,275.6 L191.8,278.8 L192.0,279.3 L192.2,279.1 L192.4,275.2 L192.6,276.7 L192.8,277.4 L193.0,278.4 L193.2,275.2 L193.4,273.8 L193.6,277.7 L193.8,277.5 L194.0,275.7 L194.2,273.5 L194.4,275.2 L194.6,274.4 L194.8,275.6 L195.0,271.2 L195.2,273.7 L195.4,273.0 L195.6,270.9 L195.8,273.4 L196.0,272.9 L196.2,271.9 L196.4,273.3 L196.6,269.5 L196.8,271.9 L197.0,272.7 L197.2,272.2 L197.4,273.7 L197.6,269.1 L197.8,268.4 L198.0,271.8 L198.2,272.1 L198.4,275.1 L198.6,271.7 L198.8,268.3 L199.0,271.1 L199.2,267.3 L199.4,265.6 L199.6,273.5 L199.8,268.7 L200.0,269.2 L200.2,268.6 L200.4,270.8 L200.6,267.4 L200.8,269.0 L201.0,264.1 L201.2,263.1 L201.4,268.5 L201.6,268.3 L201.8,266.1 L202.0,265.3 L202.2,264.9 L202.4,262.9 L202.6,267.2 L202.8,265.0 L203.0,264.3 L203.2,263.5 L203.4,264.5 L203.6,263.0 L203.8,263.2 L204.0,259.0 L204.2,262.3 L204.4,265.6 L204.6,259.8 L204.8,260.4 L205.0,262.2 L205.2,261.9 L205.4,260.5 L205.6,255.1 L205.8,258.7 L206.0,254.4 L206.2,254.4 L206.4,256.6 L206.6,254.1 L206.8,255.8 L207.0,259.7 L207.2,254.2 L207.4,253.3 L207.6,249.0 L207.8,248.7 L208.0,246.9 L208.2,247.2 L208.4,245.2 L208.6,245.2 L208.8,245.3 L209.0,242.7 L209.2,240.9 L209.4,240.2 L209.6,243.5 L209.8,241.9 L210.0,243.4 L210.2,242.7 L210.4,238.9 L210.6,240.4 L210.8,234.8 L211.0,242.3 L211.2,239.0 L211.4,235.0 L211.6,232.1 L211.8,234.8 L212.0,228.8 L212.2,230.4 L212.4,233.0 L212.6,230.6 L212.8,228.3 L213.0,230.6 L213.2,225.1 L213.4,227.1 L213.6,224.2 L213.8,222.3 L214.0,224.3 L214.2,219.7 L214.4,225.4 L214.6,218.4 L214.8,223.4 L215.0,214.9 L215.2,217.8 L215.4,212.3 L215.6,210.7 L215.8,212.9 L216.0,212.7 L216.2,206.4 L216.4,210.8 L216.6,204.6 L216.8,205.6 L217.0,205.1 L217.2,204.7 L217.4,197.9 L217.6,205.6 L217.8,202.1 L218.0,198.6 L218.2,195.8 L218.4,192.5 L218.6,191.5 L218.8,194.4 L219.0,190.3 L219.2,186.4 L219.4,186.2 L219.6,189.9 L219.8,183.4 L220.0,181.1 L220.2,184.6 L220.4,180.7 L220.6,178.0 L220.8,174.7 L221.0,170.6 L221.2,170.0 L221.4,170.2 L221.6,169.2 L221.8,169.2 L222.0,168.2 L222.2,165.9 L222.4,164.6 L222.6,159.9 L222.8,155.6 L223.0,158.9 L223.2,156.8 L223.4,156.8 L223.6,157.3 L223.8,154.1 L224.0,154.0 L224.2,156.3 L224.4,156.3 L224.6,153.6 L224.8,156.3 L225.0,153.9 L225.2,151.5 L225.4,154.4 L225.6,159.6 L225.8,152.5 L226.0,157.5 L226.2,158.1 L226.4,158.3 L226.6,151.9 L226.8,159.8 L227.0,154.8 L227.2,154.0 L227.4,154.4 L227.6,157.1 L227.8,156.0 L228.0,155.8 L228.2,160.2 L228.4,155.0 L228.6,154.6 L228.8,160.0 L229.0,160.2 L229.2,161.7 L229.4,156.3 L229.6,162.6 L229.8,161.5 L230.0,165.6 L230.2,158.1 L230.4,162.9 L230.6,162.5 L230.8,160.0 L231.0,163.3 L231.2,169.1 L231.4,165.6 L231.6,165.5 L231.8,170.3 L232.0,171.2 L232.2,171.7 L232.4,167.5 L232.6,170.2 L232.8,173.8 L233.0,170.2 L233.2,170.8 L233.4,175.9 L233.6,178.8 L233.8,172.7 L234.0,170.0 L234.2,174.2 L234.4,176.6 L234.6,180.0 L234.8,183.0 L235.0,181.8 L235.2,180.8 L235.4,183.4 L235.6,180.6 L235.8,183.0 L236.0,181.5 L236.2,190.2 L236.4,185.5 L236.6,181.4 L236.8,181.4 L237.0,183.3 L237.2,180.8 L237.4,183.9 L237.6,184.6 L237.8,189.4 L238.0,186.5 L238.2,186.1 L238.4,185.0 L238.6,185.8 L238.8,189.0 L239.0,189.0 L239.2,192.9 L239.4,188.8 L239.6,193.5 L239.8,191.8 L240.0,191.6 L240.2,187.1 L240.4,189.7 L240.6,195.7 L240.8,198.3 L241.0,196.3 L241.2,198.6 L241.4,196.4 L241.6,197.2 L241.8,197.0 L242.0,201.6 L242.2,200.4 L242.4,199.5 L242.6,199.7 L242.8,202.4 L243.0,202.1 L243.2,199.5 L243.4,205.9 L243.6,202.2 L243.8,201.4 L244.0,204.7 L244.2,203.3 L244.4,200.2 L244.6,201.4 L244.8,197.1 L245.0,197.7 L245.2,193.2 L245.4,201.5 L245.6,193.3 L245.8,199.4 L246.0,195.4 L246.2,194.9 L246.4,196.8 L246.6,197.9 L246.8,198.6 L247.0,201.2 L247.2,197.1 L247.4,197.7 L247.6,193.2 L247.8,195.7 L248.0,193.6 L248.2,191.5 L248.4,192.1 L248.6,192.0 L248.8,192.5 L249.0,192.9 L249.2,190.6 L249.4,189.9 L249.6,193.7 L249.8,187.4 L250.0,190.2 L250.2,195.9 L250.4,185.3 L250.6,190.8 L250.8,194.6 L251.0,188.8 L251.2,199.6 L251.4,186.0 L251.6,195.8 L251.8,195.4 L252.0,193.1 L252.2,189.5 L252.4,190.3 L252.6,186.4 L252.8,190.3 L253.0,184.9 L253.2,186.7 L253.4,189.6 L253.6,183.8 L253.8,185.3 L254.0,186.1 L254.2,181.6 L254.4,187.4 L254.6,184.6 L254.8,179.1 L255.0,182.3 L255.2,179.8 L255.4,179.3 L255.6,180.4 L255.8,177.4 L256.0,180.8 L256.2,175.4 L256.4,178.8 L256.6,175.2 L256.8,176.7 L257.0,172.1 L257.2,171.3 L257.4,168.6 L257.6,172.0 L257.8,171.6 L258.0,173.3 L258.2,169.4 L258.4,164.9 L258.6,161.8 L258.8,161.7 L259.0,159.0 L259.2,161.6 L259.4,158.9 L259.6,152.7 L259.8,151.9 L260.0,156.2 L260.2,151.7 L260.4,148.4 L260.6,150.4 L260.8,143.8 L261.0,141.9 L261.2,139.2 L261.4,132.9 L261.6,139.0 L261.8,131.4 L262.0,131.6 L262.2,129.7 L262.4,132.8 L262.6,129.4 L262.8,128.8 L263.0,123.0 L263.2,126.7 L263.4,121.6 L263.6,125.7 L263.8,124.9 L264.0,122.7 L264.2,127.9 L264.4,122.7 L264.6,122.2 L264.8,120.2 L265.0,118.5 L265.2,121.3 L265.4,121.0 L265.6,113.3 L265.8,119.9 L266.0,118.0 L266.2,119.2 L266.4,117.7 L266.6,112.6 L266.8,112.8 L267.0,121.7 L267.2,116.8 L267.4,111.5 L267.6,116.1 L267.8,113.1 L268.0,107.6 L268.2,105.4 L268.4,106.3 L268.6,112.9 L268.8,113.4 L269.0,114.1 L269.2,116.9 L269.4,119.2 L269.6,112.7 L269.8,119.7 L270.0,120.1 L270.2,121.0 L270.4,125.2 L270.6,128.9 L270.8,131.0 L271.0,130.3 L271.2,135.9 L271.4,146.0 L271.6,140.4 L271.8,141.7 L272.0,150.3 L272.2,154.3 L272.4,157.0 L272.6,155.9 L272.8,165.1 L273.0,163.7 L273.2,166.2 L273.4,170.8 L273.6,175.2 L273.8,180.0 L274.0,182.0 L274.2,182.3 L274.4,186.6 L274.6,186.1 L274.8,189.6 L275.0,185.1 L275.2,185.8 L275.4,192.9 L275.6,188.4 L275.8,192.2 L276.0,193.6 L276.2,193.6 L276.4,194.7 L276.6,200.3 L276.8,191.3 L277.0,200.7 L277.2,204.9 L277.4,199.8 L277.6,200.2 L277.8,202.4 L278.0,205.4 L278.2,198.0 L278.4,201.3 L278.6,200.7 L278.8,202.6 L279.0,201.7 L279.2,203.0 L279.4,200.3 L279.6,201.4 L279.8,199.6 L280.0,199.6 L280.2,201.0 L280.4,201.0 L280.6,198.6 L280.8,205.5 L281.0,201.5 L281.2,198.7 L281.4,205.2 L281.6,201.0 L281.8,204.6 L282.0,203.7 L282.2,204.7 L282.4,204.7 L282.6,202.9 L282.8,204.3 L283.0,209.0 L283.2,198.2 L283.4,203.7 L283.6,204.4 L283.8,200.6 L284.0,199.6 L284.2,208.2 L284.4,201.7 L284.6,207.5 L284.8,203.4 L285.0,201.9 L285.2,202.6 L285.4,202.7 L285.6,203.8 L285.8,201.8 L286.0,201.0 L286.2,201.0 L286.4,203.8 L286.6,202.4 L286.8,197.6 L287.0,198.3 L287.2,200.5 L287.4,197.9 L287.6,198.3 L287.8,196.7 L288.0,198.2 L288.2,199.8 L288.4,201.1 L288.6,198.5 L288.8,203.6 L289.0,198.2 L289.2,205.9 L289.4,200.9 L289.6,199.7 L289.8,197.1 L290.0,191.1 L290.2,197.5 L290.4,198.0 L290.6,202.1 L290.8,193.5 L291.0,201.5 L291.2,195.9 L291.4,198.3 L291.6,190.1 L291.8,197.0 L292.0,196.0 L292.2,198.8 L292.4,197.6 L292.6,194.7 L292.8,200.0 L293.0,199.4 L293.2,199.0 L293.4,199.8 L293.6,199.7 L293.8,196.6 L294.0,192.9 L294.2,192.5 L294.4,199.1 L294.6,197.3 L294.8,195.7 L295.0,194.3 L295.2,195.4 L295.4,195.3 L295.6,194.2 L295.8,193.1 L296.0,200.0 L296.2,194.8 L296.4,192.4 L296.6,190.4 L296.8,191.6 L297.0,195.1 L297.2,195.0 L297.4,192.3 L297.6,192.8 L297.8,191.8 L298.0,189.8 L298.2,196.0 L298.4,193.9 L298.6,199.5 L298.8,191.6 L299.0,193.4 L299.2,196.1 L299.4,193.2 L299.6,190.2 L299.8,191.1 L300.0,193.5 L300.2,193.9 L300.4,192.6 L300.6,195.1 L300.8,195.0 L301.0,193.2 L301.2,192.4 L301.4,191.7 L301.6,193.8 L301.8,194.8 L302.0,192.8 L302.2,194.0 L302.4,192.3 L302.6,189.6 L302.8,190.7 L303.0,195.0 L303.2,193.9 L303.4,196.4 L303.6,192.0 L303.8,193.6 L304.0,194.2 L304.2,192.9 L304.4,188.3 L304.6,189.0 L304.8,189.6 L305.0,186.5 L305.2,190.2 L305.4,191.5 L305.6,187.5 L305.8,193.6 L306.0,187.6 L306.2,187.6 L306.4,187.4 L306.6,186.1 L306.8,189.1 L307.0,188.3 L307.2,192.8 L307.4,190.4 L307.6,190.4 L307.8,188.7 L308.0,185.8 L308.2,189.3 L308.4,187.5 L308.6,192.2 L308.8,189.7 L309.0,193.9 L309.2,191.3 L309.4,191.3 L309.6,189.6 L309.8,189.3 L310.0,190.2 L310.2,190.6 L310.4,186.1 L310.6,188.9 L310.8,194.0 L311.0,186.8 L311.2,186.1 L311.4,184.9 L311.6,182.9 L311.8,189.7 L312.0,186.8 L312.2,187.4 L312.4,191.3 L312.6,192.7 L312.8,183.7 L313.0,188.4 L313.2,187.1 L313.4,186.3 L313.6,186.3 L313.8,184.7 L314.0,188.5 L314.2,185.6 L314.4,184.5 L314.6,186.6 L314.8,185.7 L315.0,184.7 L315.2,184.8 L315.4,188.9 L315.6,186.1 L315.8,184.8 L316.0,182.9 L316.2,184.1 L316.4,181.9 L316.6,184.5 L316.8,184.4 L317.0,178.0 L317.2,182.9 L317.4,184.2 L317.6,182.7 L317.8,179.8 L318.0,185.6 L318.2,180.6 L318.4,179.4 L318.6,179.9 L318.8,182.8 L319.0,185.3 L319.2,185.7 L319.4,183.1 L319.6,179.3 L319.8,180.7 L320.0,180.0 L320.2,182.0 L320.4,178.0 L320.6,183.2 L320.8,184.9 L321.0,183.1 L321.2,185.0 L321.4,181.6 L321.6,180.4 L321.8,182.5 L322.0,187.1 L322.2,186.5 L322.4,182.2 L322.6,186.1 L322.8,181.7 L323.0,186.0 L323.2,182.9 L323.4,180.1 L323.6,183.1 L323.8,178.8 L324.0,178.2 L324.2,176.9 L324.4,181.4 L324.6,180.7 L324.8,180.8 L325.0,180.2 L325.2,185.1 L325.4,180.3 L325.6,179.4 L325.8,184.4 L326.0,184.7 L326.2,181.6 L326.4,176.0 L326.6,178.8 L326.8,181.7 L327.0,179.9 L327.2,183.6 L327.4,175.7 L327.6,180.8 L327.8,177.1 L328.0,181.9 L328.2,177.9 L328.4,180.5 L328.6,175.9 L328.8,173.8 L329.0,174.6 L329.2,176.2 L329.4,175.4 L329.6,181.5 L329.8,182.2 L330.0,179.7 L330.2,176.6 L330.4,179.3 L330.6,178.0 L330.8,183.7 L331.0,180.6 L331.2,180.7 L331.4,177.9 L331.6,173.0 L331.8,175.6 L332.0,174.1 L332.2,177.6 L332.4,176.6 L332.6,174.1 L332.8,175.2 L333.0,180.4 L333.2,173.8 L333.4,173.8 L333.6,175.4 L333.8,173.8 L334.0,174.2 L334.2,176.3 L334.4,179.0 L334.6,169.3 L334.8,173.7 L335.0,173.6 L335.2,173.2 L335.4,172.9 L335.6,172.4 L335.8,175.9 L336.0,171.9 L336.2,172.6 L336.4,172.7 L336.6,172.7 L336.8,171.7 L337.0,174.7 L337.2,171.9 L337.4,172.3 L337.6,171.7 L337.8,169.2 L338.0,169.6 L338.2,168.9 L338.4,172.0 L338.6,169.5 L338.8,168.4 L339.0,171.8 L339.2,172.6 L339.4,166.6 L339.6,176.1 L339.8,172.0 L340.0,172.0 L340.2,175.5 L340.4,173.1 L340.6,171.4 L340.8,178.8 L341.0,170.0 L341.2,172.2 L341.4,174.2 L341.6,168.5 L341.8,170.5 L342.0,171.2 L342.2,176.1 L342.4,167.0 L342.6,169.0 L342.8,170.8 L343.0,169.4 L343.2,166.1 L343.4,170.6 L343.6,169.9 L343.8,170.8 L344.0,172.6 L344.2,172.2 L344.4,170.5 L344.6,170.1 L344.8,166.0 L345.0,168.3 L345.2,168.8 L345.4,166.7 L345.6,167.6 L345.8,165.0 L346.0,171.3 L346.2,173.0 L346.4,166.4 L346.6,168.6 L346.8,167.0 L347.0,171.1 L347.2,169.0 L347.4,168.1 L347.6,167.5 L347.8,168.6 L348.0,165.8 L348.2,170.5 L348.4,166.8 L348.6,169.9 L348.8,168.5 L349.0,170.6 L349.2,167.1 L349.4,169.5 L349.6,164.0 L349.8,168.0 L350.0,165.7 L350.2,166.9 L350.4,166.7 L350.6,169.1 L350.8,161.0 L351.0,167.2 L351.2,161.9 L351.4,168.7 L351.6,159.6 L351.8,161.7 L352.0,159.6 L352.2,168.4 L352.4,160.5 L352.6,164.4 L352.8,162.8 L353.0,159.4 L353.2,163.4 L353.4,166.1 L353.6,163.7 L353.8,166.6 L354.0,162.9 L354.2,163.8 L354.4,162.7 L354.6,164.6 L354.8,168.8 L355.0,164.7 L355.2,164.3 L355.4,162.3 L355.6,162.2 L355.8,168.4 L356.0,161.6 L356.2,162.3 L356.4,164.6 L356.6,163.6 L356.8,170.0 L357.0,158.2 L357.2,165.5 L357.4,166.3 L357.6,161.2 L357.8,162.3 L358.0,165.1 L358.2,168.3 L358.4,161.5 L358.6,159.8 L358.8,166.7 L359.0,168.1 L359.2,162.7 L359.4,157.2 L359.6,166.6 L359.8,161.7 L360.0,165.1 L360.2,161.9 L360.4,161.2 L360.6,161.3 L360.8,166.9 L361.0,167.0 L361.2,157.2 L361.4,160.3 L361.6,167.4 L361.8,161.1 L362.0,158.0 L362.2,161.4 L362.4,160.8 L362.6,160.6 L362.8,159.3 L363.0,159.6 L363.2,159.0 L363.4,161.1 L363.6,157.9 L363.8,159.3 L364.0,159.5 L364.2,163.3 L364.4,160.5 L364.6,158.9 L364.8,160.4 L365.0,159.7 L365.2,161.4 L365.4,159.7 L365.6,163.2 L365.8,162.1 L366.0,158.5 L366.2,157.6 L366.4,161.3 L366.6,160.3 L366.8,158.6 L367.0,154.8 L367.2,153.7 L367.4,159.7 L367.6,160.9 L367.8,161.1 L368.0,155.3 L368.2,161.6 L368.4,157.0 L368.6,159.2 L368.8,158.8 L369.0,155.0 L369.2,155.3 L369.4,150.9 L369.6,153.9 L369.8,151.2 L370.0,157.0 L370.2,155.5 L370.4,157.4 L370.6,155.2 L370.8,152.0 L371.0,154.1 L371.2,151.7 L371.4,154.1 L371.6,153.2 L371.8,149.6 L372.0,152.5 L372.2,153.0 L372.4,152.4 L372.6,156.1 L372.8,158.7 L373.0,153.0 L373.2,153.1 L373.4,147.8 L373.6,153.5 L373.8,152.4 L374.0,147.4 L374.2,153.8 L374.4,154.3 L374.6,150.3 L374.8,151.0 L375.0,149.3 L375.2,154.0 L375.4,147.7 L375.6,151.0 L375.8,157.3 L376.0,151.9 L376.2,152.8 L376.4,150.8 L376.6,147.6 L376.8,150.5 L377.0,151.5 L377.2,147.4 L377.4,151.2 L377.6,153.9 L377.8,153.6 L378.0,146.4 L378.2,148.3 L378.4,146.7 L378.6,154.2 L378.8,152.8 L379.0,152.8 L379.2,148.0 L379.4,146.8 L379.6,149.9 L379.8,149.7 L380.0,147.0 L380.2,149.9 L380.4,151.5 L380.6,150.6 L380.8,147.2 L381.0,144.2 L381.2,149.1 L381.4,149.8 L381.6,147.8 L381.8,146.4 L382.0,144.8 L382.2,147.9 L382.4,145.2 L382.6,145.5 L382.8,142.5 L383.0,143.8 L383.2,146.5 L383.4,143.6 L383.6,143.2 L383.8,145.9 L384.0,150.0 L384.2,146.8 L384.4,149.8 L384.6,144.8 L384.8,143.8 L385.0,140.4 L385.2,142.4 L385.4,147.9 L385.6,144.7 L385.8,145.7 L386.0,145.5 L386.2,143.3 L386.4,142.7 L386.6,143.7 L386.8,145.5 L387.0,145.0 L387.2,145.3 L387.4,144.3 L387.6,141.6 L387.8,142.8 L388.0,140.6 L388.2,145.8 L388.4,136.6 L388.6,141.4 L388.8,148.2 L389.0,139.9 L389.2,137.1 L389.4,139.7 L389.6,143.1 L389.8,138.8 L390.0,140.9 L390.2,139.5 L390.4,138.2 L390.6,147.9 L390.8,139.8 L391.0,138.3 L391.2,138.8 L391.4,141.5 L391.6,141.8 L391.8,142.9 L392.0,141.0 L392.2,136.3 L392.4,141.6 L392.6,138.9 L392.8,138.7 L393.0,135.2 L393.2,137.6 L393.4,137.0 L393.6,138.7 L393.8,134.4 L394.0,138.4 L394.2,138.3 L394.4,134.7 L394.6,136.2 L394.8,135.7 L395.0,140.9 L395.2,131.1 L395.4,137.2 L395.6,133.1 L395.8,136.1 L396.0,139.2 L396.2,134.4 L396.4,136.2 L396.6,133.1 L396.8,140.9 L397.0,137.7 L397.2,138.1 L397.4,130.9 L397.6,131.4 L397.8,137.6 L398.0,133.9 L398.2,133.7 L398.4,135.4 L398.6,130.9 L398.8,136.8 L399.0,134.8 L399.2,136.3 L399.4,133.0 L399.6,136.2 L399.8,132.3 L400.0,136.5 L400.2,136.3 L400.4,135.0 L400.6,133.3 L400.8,133.3 L401.0,123.6 L401.2,133.9 L401.4,130.9 L401.6,132.2 L401.8,131.4 L402.0,128.6 L402.2,131.5 L402.4,135.4 L402.6,137.8 L402.8,132.1 L403.0,131.3 L403.2,138.0 L403.4,131.1 L403.6,139.5 L403.8,133.5 L404.0,130.6 L404.2,135.7 L404.4,137.4 L404.6,127.9 L404.8,135.9 L405.0,130.0 L405.2,134.5 L405.4,128.6 L405.6,124.8 L405.8,130.7 L406.0,132.0 L406.2,135.6 L406.4,134.8 L406.6,132.0 L406.8,129.4 L407.0,128.6 L407.2,129.2 L407.4,127.4 L407.6,128.7 L407.8,121.9 L408.0,129.6 L408.2,128.9 L408.4,136.4 L408.6,131.1 L408.8,127.4 L409.0,130.3 L409.2,124.9 L409.4,126.5 L409.6,122.6 L409.8,132.0 L410.0,129.4 L410.2,124.0 L410.4,127.0 L410.6,129.7 L410.8,128.2 L411.0,127.6 L411.2,123.7 L411.4,124.0 L411.6,125.7 L411.8,127.7 L412.0,122.1 L412.2,120.8 L412.4,127.1 L412.6,120.9 L412.8,126.8 L413.0,124.5 L413.2,126.6 L413.4,129.4 L413.6,126.6 L413.8,127.0 L414.0,122.2 L414.2,122.8 L414.4,126.7 L414.6,129.2 L414.8,128.6 L415.0,131.1 L415.2,125.0 L415.4,124.5 L415.6,126.6 L415.8,123.4 L416.0,122.9 L416.2,119.7 L416.4,125.4 L416.6,119.1 L416.8,123.4 L417.0,117.4 L417.2,124.5 L417.4,117.8 L417.6,123.0 L417.8,115.5 L418.0,118.8 L418.2,123.6 L418.4,118.0 L418.6,120.9 L418.8,119.7 L419.0,114.6 L419.2,122.5 L419.4,122.9 L419.6,118.2 L419.8,122.8 L420.0,118.2 L420.2,116.9 L420.4,119.2 L420.6,116.4 L420.8,124.6 L421.0,112.6 L421.2,118.8 L421.4,119.2 L421.6,110.1 L421.8,110.7 L422.0,117.3 L422.2,114.2 L422.4,116.7 L422.6,119.0 L422.8,114.5 L423.0,112.4 L423.2,107.4 L423.4,116.1 L423.6,112.7 L423.8,116.3 L424.0,115.8 L424.2,110.8 L424.4,119.7 L424.6,117.3 L424.8,116.0 L425.0,109.3 L425.2,110.9 L425.4,110.0 L425.6,110.0 L425.8,107.6 L426.0,112.2 L426.2,111.7 L426.4,112.2 L426.6,109.8 L426.8,115.4 L427.0,112.2 L427.2,103.5 L427.4,109.8 L427.6,111.3 L427.8,114.2 L428.0,110.0 L428.2,109.8 L428.4,108.3 L428.6,112.0 L428.8,108.5 L429.0,107.8 L429.2,107.1 L429.4,110.7 L429.6,107.1 L429.8,103.4 L430.0,110.0 L430.2,105.9 L430.4,108.9 L430.6,108.9 L430.8,111.3 L431.0,110.8 L431.2,106.0 L431.4,107.3 L431.6,104.1 L431.8,113.1 L432.0,109.4 L432.2,112.0 L432.4,106.4 L432.6,100.5 L432.8,110.6 L433.0,105.5 L433.2,104.9 L433.4,104.1 L433.6,105.5 L433.8,104.8 L434.0,98.2 L434.2,106.1 L434.4,101.0 L434.6,101.0 L434.8,107.5 L435.0,104.8 L435.2,100.7 L435.4,95.9 L435.6,101.8 L435.8,102.8 L436.0,100.8 L436.2,97.2 L436.4,98.6 L436.6,97.2 L436.8,101.7 L437.0,103.4 L437.2,103.7 L437.4,97.9 L437.6,100.2 L437.8,100.3 L438.0,96.3 L438.2,96.8 L438.4,103.2 L438.6,97.0 L438.8,98.8 L439.0,94.5 L439.2,95.8 L439.4,90.1 L439.6,95.0 L439.8,98.4 L440.0,100.9 L440.2,97.9 L440.4,96.3 L440.6,94.3 L440.8,92.3 L441.0,93.7 L441.2,96.1 L441.4,91.7 L441.6,96.7 L441.8,90.6 L442.0,87.9 L442.2,90.1 L442.4,88.1 L442.6,89.1 L442.8,97.0 L443.0,93.1 L443.2,94.7 L443.4,97.8 L443.6,98.3 L443.8,93.0 L444.0,98.6 L444.2,95.5 L444.4,94.0 L444.6,94.9 L444.8,88.6 L445.0,89.9 L445.2,91.4 L445.4,93.1 L445.6,89.6 L445.8,89.9 L446.0,93.0 L446.2,94.1 L446.4,91.7 L446.6,92.9 L446.8,87.4 L447.0,87.4 L447.2,89.0 L447.4,86.8 L447.6,86.0 L447.8,92.6 L448.0,86.8 L448.2,84.4 L448.4,88.9 L448.6,93.2 L448.8,87.8 L449.0,91.4 L449.2,86.2 L449.4,86.0 L449.6,85.2 L449.8,86.8 L450.0,92.8 L450.2,83.4 L450.4,92.1 L450.6,83.8 L450.8,86.3 L451.0,89.7 L451.2,89.1 L451.4,88.1 L451.6,82.0 L451.8,88.2 L452.0,83.6 L452.2,94.4 L452.4,85.3 L452.6,86.1 L452.8,81.7 L453.0,83.8 L453.2,81.4 L453.4,88.8 L453.6,85.2 L453.8,88.0 L454.0,84.1 L454.2,84.7 L454.4,90.1 L454.6,82.7 L454.8,79.8 L455.0,86.4 L455.2,81.1 L455.4,82.9 L455.6,86.8 L455.8,81.0 L456.0,86.0 L456.2,80.8 L456.4,87.5 L456.6,86.9 L456.8,81.2 L457.0,82.1 L457.2,80.2 L457.4,83.4 L457.6,86.2 L457.8,77.9 L458.0,85.1 L458.2,77.7 L458.4,78.7 L458.6,75.2 L458.8,86.8 L459.0,79.8 L459.2,79.8 L459.4,76.4 L459.6,81.5 L459.8,71.1 L460.0,77.5 L460.2,84.1 L460.4,75.8 L460.6,76.9 L460.8,79.0 L461.0,74.3 L461.2,77.1 L461.4,80.1 L461.6,77.9 L461.8,78.6 L462.0,76.6 L462.2,78.9 L462.4,78.4 L462.6,83.0 L462.8,80.9 L463.0,78.0 L463.2,71.2 L463.4,81.2 L463.6,81.3 L463.8,75.9 L464.0,72.4 L464.2,75.1 L464.4,81.7 L464.6,75.5 L464.8,77.6 L465.0,79.8 L465.2,82.9 L465.4,78.8 L465.6,78.3 L465.8,76.5 L466.0,83.1 L466.2,81.0 L466.4,77.0 L466.6,72.6 L466.8,74.1 L467.0,78.1 L467.2,73.5 L467.4,78.2 L467.6,76.1 L467.8,75.6 L468.0,76.5 L468.2,75.9 L468.4,71.5 L468.6,73.1 L468.8,81.5 L469.0,70.1 L469.2,72.2 L469.4,76.9 L469.6,72.7 L469.8,70.5 L470.0,68.9 L470.2,74.9 L470.4,76.7 L470.6,78.2 L470.8,74.1 L471.0,77.4 L471.2,70.6 L471.4,74.2 L471.6,71.3 L471.8,73.7 L472.0,75.4 L472.2,76.2 L472.4,69.4 L472.6,76.4 L472.8,70.5 L473.0,68.3 L473.2,70.6 L473.4,66.0 L473.6,70.3 L473.8,70.8 L474.0,68.9 L474.2,70.9 L474.4,67.9 L474.6,68.5 L474.8,63.5 L475.0,67.8 L475.2,64.4 L475.4,65.1 L475.6,65.8 L475.8,66.4 L476.0,60.2 L476.2,60.3 L476.4,64.4 L476.6,66.8 L476.8,66.3 L477.0,67.9 L477.2,69.0 L477.4,66.1 L477.6,64.0 L477.8,60.2 L478.0,59.9 L478.2,60.9 L478.4,62.7 L478.6,62.0 L478.8,61.0 L479.0,60.3 L479.2,62.9 L479.4,61.7 L479.6,62.3 L479.8,62.6 L480.0,60.2 L480.2,58.8 L480.4,63.8 L480.6,63.5 L480.8,61.2 L481.0,60.2 L481.2,68.7 L481.4,58.5 L481.6,60.1 L481.8,61.4 L482.0,56.6 L482.2,60.4 L482.4,65.6 L482.6,62.4 L482.8,61.1 L483.0,60.8 L483.2,59.1 L483.4,62.0 L483.6,58.6 L483.8,58.1 L484.0,60.3 L484.2,63.4 L484.4,61.8 L484.6,63.1 L484.8,54.3 L485.0,64.7 L485.2,68.3 L485.4,64.8 L485.6,59.3 L485.8,57.4 L486.0,60.9 L486.2,56.6 L486.4,62.0 L486.6,57.7 L486.8,62.3 L487.0,63.4 L487.2,52.2 L487.4,59.5 L487.6,56.1 L487.8,53.4 L488.0,55.6 L488.2,56.4 L488.4,60.1 L488.6,51.4 L488.8,59.5 L489.0,62.6 L489.2,57.9 L489.4,57.7 L489.6,56.0 L489.8,52.2 L490.0,57.8 L490.2,57.3 L490.4,58.3 L490.6,64.2 L490.8,58.1 L491.0,57.0 L491.2,60.7 L491.4,51.2 L491.6,51.9 L491.8,54.5 L492.0,53.6 L492.2,58.0 L492.4,54.7 L492.6,61.5 L492.8,60.8 L493.0,58.5 L493.2,54.9 L493.4,58.3 L493.6,59.1 L493.8,53.0 L494.0,57.5 L494.2,58.5 L494.4,56.6 L494.6,60.6 L494.8,58.9 L495.0,51.6 L495.2,54.3 L495.4,50.8 L495.6,55.2 L495.8,50.5 L496.0,56.6 L496.2,55.2 L496.4,57.5 L496.6,54.3 L496.8,50.4 L497.0,61.3 L497.2,55.2 L497.4,60.5 L497.6,57.5 L497.8,58.4 L498.0,62.3 L498.2,57.6 L498.4,61.3 L498.6,52.2 L498.8,60.1 L499.0,56.6 L499.2,57.1 L499.4,57.4 L499.6,58.4 L499.8,62.5 L500.0,50.9 L500.2,57.1 L500.4,54.5 L500.6,60.5 L500.8,55.1 L501.0,57.6 L501.2,54.5 L501.4,57.9 L501.6,59.0 L501.8,54.5 L502.0,56.2 L502.2,51.7 L502.4,57.5 L502.6,59.5 L502.8,54.9 L503.0,60.3 L503.2,49.9 L503.4,50.7 L503.6,52.3 L503.8,55.5 L504.0,57.5 L504.2,57.5 L504.4,57.9 L504.6,60.9 L504.8,57.3 L505.0,54.9 L505.2,55.1 L505.4,66.1 L505.6,51.6 L505.8,58.8 L506.0,64.3 L506.2,61.4 L506.4,57.2 L506.6,60.0 L506.8,62.7 L507.0,63.6 L507.2,56.5 L507.4,61.6 L507.6,59.7 L507.8,62.3 L508.0,63.0 L508.2,57.0 L508.4,53.1 L508.6,58.9 L508.8,63.2 L509.0,59.6 L509.2,58.3 L509.4,65.7 L509.6,54.8 L509.8,61.3 L510.0,56.6 L510.2,58.5 L510.4,58.4 L510.6,62.8 L510.8,54.7 L511.0,56.0 L511.2,52.7 L511.4,59.9 L511.6,57.3 L511.8,60.6 L512.0,56.1 L512.2,58.6 L512.4,63.3 L512.6,59.1 L512.8,61.4 L513.0,60.7 L513.2,57.3 L513.4,52.8 L513.6,60.6 L513.8,57.7 L514.0,60.1 L514.2,50.2 L514.4,51.2 L514.6,49.4 L514.8,53.2 L515.0,59.1 L515.2,57.1 L515.4,54.8 L515.6,55.2 L515.8,57.1 L516.0,53.6 L516.2,56.0 L516.4,55.3 L516.6,47.9 L516.8,54.1 L517.0,60.1 L517.2,54.6 L517.4,55.6 L517.6,54.2 L517.8,54.7 L518.0,59.9 L518.2,55.4 L518.4,52.9 L518.6,46.5 L518.8,54.4 L519.0,49.8 L519.2,50.2 L519.4,58.5 L519.6,57.9 L519.8,48.8 L520.0,57.4 L520.2,55.7 L520.4,51.3 L520.6,56.1 L520.8,48.4 L521.0,50.0 L521.2,49.5 L521.4,50.9 L521.6,57.6 L521.8,50.5 L522.0,51.0 L522.2,51.5 L522.4,55.0 L522.6,52.9 L522.8,56.4 L523.0,50.9 L523.2,48.7 L523.4,51.1 L523.6,52.8 L523.8,49.6 L524.0,53.6 L524.2,58.6 L524.4,50.7 L524.6,52.7 L524.8,57.0 L525.0,50.4 L525.2,49.7 L525.4,48.8 L525.6,53.5 L525.8,53.6 L526.0,51.2 L526.2,51.7 L526.4,55.6 L526.6,54.1 L526.8,46.4 L527.0,50.9 L527.2,51.1 L527.4,53.1 L527.6,50.0 L527.8,48.9 L528.0,49.8 L528.2,45.7 L528.4,51.7 L528.6,49.9 L528.8,53.4 L529.0,48.5 L529.2,50.4 L529.4,48.6 L529.6,48.2 L529.8,53.9 L530.0,49.9 L530.2,52.6 L530.4,47.2 L530.6,50.9 L530.8,44.7 L531.0,48.4 L531.2,48.1 L531.4,51.5 L531.6,50.1 L531.8,48.9" fill="none" stroke="#000" stroke-width="0.7" stroke-linejoin="round"/>
<g stroke="#262626" stroke-width="2" fill="none">
<path d="M101.8,19.4 V367 H532.5"/>
<line x1="126.64" y1="367" x2="126.64" y2="371"/><line x1="168.03" y1="367" x2="168.03" y2="374"/><line x1="209.42" y1="367" x2="209.42" y2="371"/><line x1="250.82" y1="367" x2="250.82" y2="374"/><line x1="292.21" y1="367" x2="292.21" y2="371"/><line x1="333.61" y1="367" x2="333.61" y2="374"/><line x1="375.00" y1="367" x2="375.00" y2="371"/><line x1="416.40" y1="367" x2="416.40" y2="374"/><line x1="457.79" y1="367" x2="457.79" y2="371"/><line x1="499.18" y1="367" x2="499.18" y2="374"/><line x1="94.80" y1="366.80" x2="101.8" y2="366.80"/><line x1="97.80" y1="342.06" x2="101.8" y2="342.06"/><line x1="94.80" y1="317.31" x2="101.8" y2="317.31"/><line x1="97.80" y1="292.57" x2="101.8" y2="292.57"/><line x1="94.80" y1="267.83" x2="101.8" y2="267.83"/><line x1="97.80" y1="243.09" x2="101.8" y2="243.09"/><line x1="94.80" y1="218.34" x2="101.8" y2="218.34"/><line x1="97.80" y1="193.60" x2="101.8" y2="193.60"/><line x1="94.80" y1="168.86" x2="101.8" y2="168.86"/><line x1="97.80" y1="144.11" x2="101.8" y2="144.11"/><line x1="94.80" y1="119.37" x2="101.8" y2="119.37"/><line x1="97.80" y1="94.63" x2="101.8" y2="94.63"/><line x1="94.80" y1="69.89" x2="101.8" y2="69.89"/><line x1="97.80" y1="45.14" x2="101.8" y2="45.14"/><line x1="94.80" y1="20.40" x2="101.8" y2="20.40"/>
</g>
<g fill="#262626" font-size="14.5">
<text x="168.03" y="390.2" text-anchor="middle">1000</text><text x="250.82" y="390.2" text-anchor="middle">1500</text><text x="333.61" y="390.2" text-anchor="middle">2000</text><text x="416.40" y="390.2" text-anchor="middle">2500</text><text x="499.18" y="390.2" text-anchor="middle">3000</text>
<text x="85.6" y="25.60" text-anchor="end">3.5x10</text><text x="86.3" y="19.20" font-size="8.5">3</text><text x="85.6" y="75.09" text-anchor="end">3.0x10</text><text x="86.3" y="68.69" font-size="8.5">3</text><text x="85.6" y="124.57" text-anchor="end">2.5x10</text><text x="86.3" y="118.17" font-size="8.5">3</text><text x="85.6" y="174.06" text-anchor="end">2.0x10</text><text x="86.3" y="167.66" font-size="8.5">3</text><text x="85.6" y="223.54" text-anchor="end">1.5x10</text><text x="86.3" y="217.14" font-size="8.5">3</text><text x="85.6" y="273.03" text-anchor="end">1.0x10</text><text x="86.3" y="266.63" font-size="8.5">3</text><text x="85.6" y="322.51" text-anchor="end">5.0x10</text><text x="86.3" y="316.11" font-size="8.5">2</text><text x="90.5" y="372.00" text-anchor="end">0.0</text>
</g>
<g fill="#111" font-size="18">
<text x="243.9" y="419.8">Raman shift (cm<tspan font-size="10.5" dx="0.5" dy="-8.6">-1</tspan><tspan dx="1.2" dy="8.6">)</tspan></text>
<text transform="translate(20.9,181.4) rotate(-90)" text-anchor="middle" font-size="18">Intensity (a.u.)</text>
</g>
<g font-size="18">
<text x="138.1" y="147.8" fill="#111">D (1355 cm<tspan font-size="10.5" dy="-8.6">-1</tspan><tspan dx="2" dy="8.6">)</tspan></text>
<text x="276.9" y="121.2" fill="#111" font-size="17.9">G (1600 cm<tspan font-size="10.5" dy="-8.6">-1</tspan><tspan dx="2" dy="8.6">)</tspan></text>
<text x="106.2" y="243.4" fill="#ff0000">D (1348 cm<tspan font-size="10.5" dy="-8.6">-1</tspan><tspan dx="2" dy="8.6">)</tspan></text>
<text x="278.4" y="244" fill="#ff0000" font-size="17.8">G (1599 cm<tspan font-size="10.5" dy="-8.6">-1</tspan><tspan dx="2" dy="8.6">)</tspan></text>
</g>
<g font-size="17.5" font-weight="bold">
<text x="448.3" y="157" fill="#000" stroke="#000" stroke-width="0.35" font-size="18">GO</text>
<text x="448" y="180" fill="#000" stroke="#000" stroke-width="0.35">I<tspan font-size="10.5" dx="1.5" dy="5.6">D</tspan><tspan dx="0.3" dy="-5.6">/I</tspan><tspan font-size="10.5" dx="0.8" dy="5.6">G</tspan><tspan dx="-1.2" dy="-5.6">=0.91</tspan></text>
<text x="445.2" y="233.6" fill="#ff0000" stroke="#ff0000" stroke-width="0.35" font-size="18">RGO</text>
<text x="445.4" y="256.4" fill="#ff0000" stroke="#ff0000" stroke-width="0.35">I<tspan font-size="10.5" dx="1.5" dy="5.6">D</tspan><tspan dx="0.3" dy="-5.6">/I</tspan><tspan font-size="10.5" dx="0.8" dy="5.6">G</tspan><tspan dx="-1.2" dy="-5.6">=1.16</tspan></text>
</g>
<rect x="306.5" y="16.5" width="91" height="47" fill="#fff" stroke="#808080" stroke-width="1"/>
<line x1="308.3" y1="29" x2="349" y2="29" stroke="#000" stroke-width="0.65"/>
<line x1="308.3" y1="51" x2="349" y2="51" stroke="#ff0000" stroke-width="0.8"/>
<g font-size="18" fill="#000">
<text x="353.8" y="34.7">GO</text>
<text x="353.6" y="57">RGO</text>
</g>
</svg>
</body></html>
